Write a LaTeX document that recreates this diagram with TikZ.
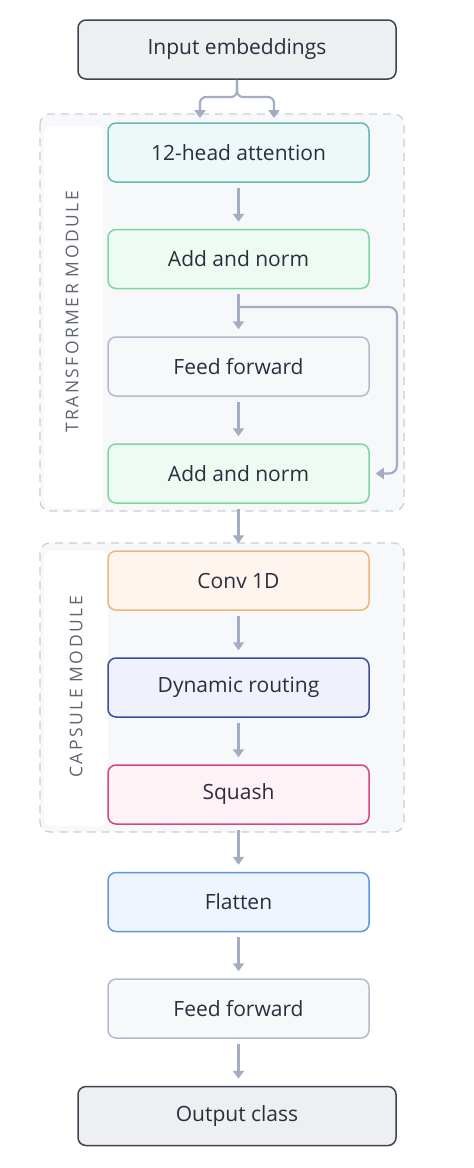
\documentclass[tikz,border=0pt]{standalone}
\usepackage{fontspec}
\setmainfont{Open Sans}
\usetikzlibrary{arrows.meta}

\definecolor{txt}{HTML}{2A2E3D}
\definecolor{arr}{HTML}{A3ACC2}
\definecolor{ioline}{HTML}{3E4350}
\definecolor{iofill}{HTML}{EEEFF1}
\definecolor{attline}{HTML}{66B8B5}
\definecolor{attfill}{HTML}{EDF8F8}
\definecolor{normline}{HTML}{7DD6A0}
\definecolor{normfill}{HTML}{EEFBF3}
\definecolor{ffline}{HTML}{B4BBCB}
\definecolor{fffill}{HTML}{F7F8FA}
\definecolor{convline}{HTML}{F2B57A}
\definecolor{convfill}{HTML}{FEF6EE}
\definecolor{dynline}{HTML}{3B4E9E}
\definecolor{dynfill}{HTML}{EFF2FA}
\definecolor{sqline}{HTML}{D4467D}
\definecolor{sqfill}{HTML}{FDF2F6}
\definecolor{flatline}{HTML}{5C97E6}
\definecolor{flatfill}{HTML}{EEF5FE}
\definecolor{modline}{HTML}{C9CDD6}
\definecolor{modfill}{HTML}{F7F8FA}
\definecolor{labtxt}{HTML}{5F6473}

\tikzset{
    blk/.style={draw, rounded corners=8pt, line width=1.5pt, minimum width=261pt,
        minimum height=59pt, text=txt, font=\fontsize{21}{25}\selectfont},
    io/.style={blk, minimum width=318pt, draw=ioline, fill=iofill},
    flowline/.style={draw=arr, line width=2.2pt},
    flow/.style={flowline, -{Triangle[width=11pt,length=8pt]}, shorten <=5pt, shorten >=7pt},
    module/.style={draw=modline, dash pattern=on 8pt off 6pt, line width=1.2pt,
        rounded corners=10pt, fill=modfill},
    modlabel/.style={rotate=90, text=labtxt,
        font=\fontsize{17.5}{20}\selectfont\addfontfeatures{LetterSpace=14}}
}

\begin{document}
\begin{tikzpicture}[x=1pt, y=-1pt]
    \useasboundingbox (0,0) rectangle (474,1168);

    % module frames
    \draw[module] (40,114) rectangle (404,511);
    \fill[white, rounded corners=8pt] (44,126) rectangle (103,508);
    \draw[module] (40,543) rectangle (404,832);
    \fill[white, rounded corners=8pt] (44,551) rectangle (108,826);
    \node[modlabel] (tlab) at (72,312) {TRANSFORMER MODULE};
    \node[modlabel] (clab) at (76,687) {CAPSULE MODULE};

    % blocks
    \node[io] (inp) at (237,49.5) {Input embeddings};
    \node[blk, draw=attline, fill=attfill] (att) at (238.5,152.5) {12-head attention};
    \node[blk, draw=normline, fill=normfill] (norm1) at (238.5,259) {Add and norm};
    \node[blk, draw=ffline, fill=fffill] (ff1) at (238.5,366.5) {Feed forward};
    \node[blk, draw=normline, fill=normfill] (norm2) at (238.5,473.5) {Add and norm};
    \node[blk, draw=convline, fill=convfill] (conv) at (238.5,580.5) {Conv 1D};
    \node[blk, draw=dynline, fill=dynfill] (dyn) at (238.5,687.5) {Dynamic routing};
    \node[blk, draw=sqline, fill=sqfill] (squash) at (238.5,794.5) {Squash};
    \node[blk, draw=flatline, fill=flatfill] (flat) at (238.5,902) {Flatten};
    \node[blk, draw=ffline, fill=fffill] (ff2) at (238.5,1008.5) {Feed forward};
    \node[io] (outp) at (237,1116) {Output class};

    % split into attention
    \coordinate (split) at (237,97);
    \coordinate (tipL) at (200,118);
    \coordinate (tipR) at (274,118);
    \draw[flowline, rounded corners=6pt, -{Triangle[width=11pt,length=8pt]}] (inp.south) -- (split) -| (tipL);
    \draw[flowline, rounded corners=6pt, -{Triangle[width=11pt,length=8pt]}] (inp.south) -- (split) -| (tipR);

    % main flow
    \draw[flow] (att) -- (norm1);
    \draw[flow] (norm1) -- (ff1);
    \draw[flow] (ff1) -- (norm2);
    \draw[flow] (norm2) -- (conv);
    \draw[flow] (conv) -- (dyn);
    \draw[flow] (dyn) -- (squash);
    \draw[flow] (squash) -- (flat);
    \draw[flow] (flat) -- (ff2);
    \draw[flow] (ff2.south) -- (ff2.south |- outp.north);

    % residual
    \coordinate (fork) at (238.5,307);
    \coordinate (loopR) at (397,473.5);
    \draw[flowline, rounded corners=8pt, -{Triangle[width=11pt,length=8pt]}, shorten >=6pt]
        (fork) -- (fork -| loopR) -- (loopR) -- (norm2.east);
\end{tikzpicture}
\end{document}
